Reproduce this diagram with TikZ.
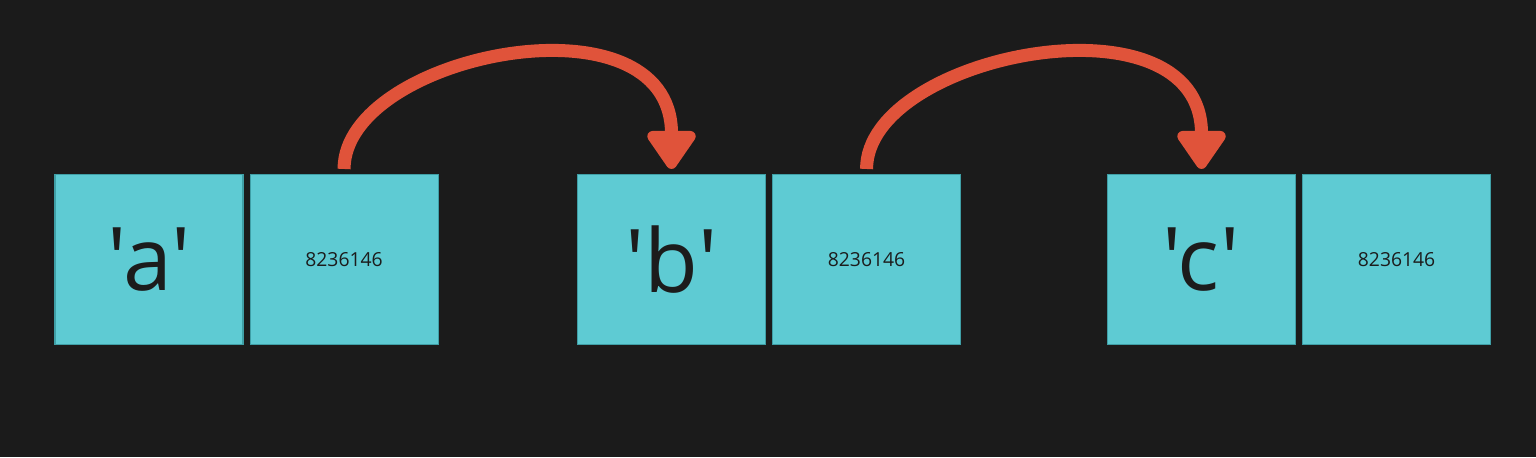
\documentclass[tikz,border=0pt]{standalone}
\usepackage{tikz}
\usepackage{xcolor}
\usepackage{fontspec}
\usetikzlibrary{positioning,arrows.meta}
\newfontfamily\cellfont{Open Sans}

\definecolor{bgdark}{HTML}{1B1B1B}
\definecolor{cellcyan}{HTML}{5ECBD3}
\definecolor{celledge}{HTML}{3F9FA6}
\definecolor{linkred}{HTML}{E0533A}
\definecolor{inkdark}{HTML}{1C1C1C}

\begin{document}
\begin{tikzpicture}[
    cell/.style={draw=celledge, line width=0.6pt, fill=cellcyan, text=inkdark,
        minimum width=3.76cm, minimum height=3.4cm, inner sep=0pt},
    value/.style={cell, font=\cellfont\fontsize{50}{60}\selectfont},
    addr/.style={cell, font=\cellfont\fontsize{11}{13}\selectfont},
    link/.style={linkred, line width=7.4pt,
        -{Triangle[width=1.1cm, length=0.85cm, round]}}
]
    % Background
    \useasboundingbox (0,0) rectangle (30.72,9.14);
    \fill[bgdark] (0,0) rectangle (30.72,9.14);

    % Cells
    \node[value] (a) at (2.98,3.95) {'a'};
    \node[addr, right=0.12cm of a] (pa) {8236146};

    \node[value] (b) at (13.43,3.95) {'b'};
    \node[addr, right=0.12cm of b] (pb) {8236146};

    \node[value] (c) at (24.03,3.95) {'c'};
    \node[addr, right=0.12cm of c] (pc) {8236146};

    % Links
    \draw[link] ([yshift=0.1cm]pa.north) to[out=90, in=90, out distance=2.3cm, in distance=3.6cm] ([yshift=0.1cm]b.north);
    \draw[link] ([yshift=0.1cm]pb.north) to[out=90, in=90, out distance=2.3cm, in distance=3.6cm] ([yshift=0.1cm]c.north);
\end{tikzpicture}
\end{document}
